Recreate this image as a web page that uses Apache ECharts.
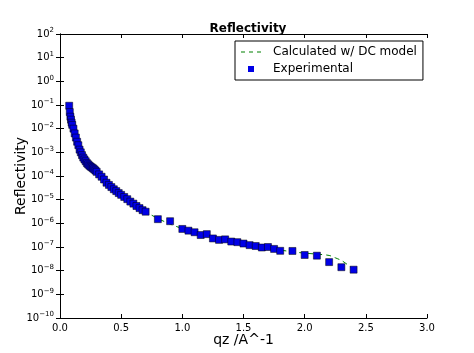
<!DOCTYPE html>
<html>
<head>
<meta charset="utf-8">
<script src="https://cdn.jsdelivr.net/npm/echarts@6/dist/echarts.min.js"></script>
<style>
html,body{margin:0;padding:0;background:#fff;}
#chart{width:474px;height:353px;}
</style>
</head>
<body>
<div id="chart"></div>
<script>
// Experimental data (qz in 1/A, reflectivity)
const expQ = [0.075, 0.08, 0.085, 0.09, 0.095, 0.10, 0.11, 0.12, 0.13, 0.14, 0.15, 0.16, 0.17, 0.18, 0.19, 0.20,
  0.21, 0.22, 0.23, 0.24, 0.25, 0.26, 0.27, 0.28, 0.29, 0.30, 0.32, 0.34, 0.36, 0.38, 0.40, 0.42, 0.44, 0.46,
  0.48, 0.50, 0.525, 0.55, 0.575, 0.60, 0.625, 0.65, 0.675, 0.70,
  0.8, 0.9, 1.0, 1.05, 1.1, 1.15, 1.2, 1.25, 1.3, 1.35, 1.4, 1.45, 1.5, 1.55, 1.6, 1.65, 1.7, 1.75, 1.8,
  1.9, 2.0, 2.1, 2.2, 2.3, 2.4];
const expR = [9.3e-2, 5.0e-2, 3.2e-2, 2.4e-2, 1.8e-2, 1.45e-2, 1.0e-2, 6.3e-3, 4.2e-3, 2.8e-3, 2.0e-3, 1.3e-3,
  1.0e-3, 7.6e-4, 6.0e-4, 5.0e-4, 4.2e-4, 3.5e-4, 3.1e-4, 2.75e-4, 2.5e-4, 2.3e-4, 2.1e-4, 1.9e-4, 1.7e-4,
  1.5e-4, 1.17e-4, 9.3e-5, 7.1e-5, 5.2e-5, 4.2e-5, 3.4e-5, 2.75e-5, 2.3e-5, 1.9e-5, 1.6e-5, 1.3e-5, 1.05e-5,
  8.3e-6, 6.8e-6, 5.4e-6, 4.4e-6, 3.6e-6, 3.1e-6,
  1.5e-6, 1.23e-6, 5.8e-7, 4.9e-7, 4.2e-7, 3.2e-7, 3.5e-7, 2.3e-7, 2.0e-7, 2.1e-7, 1.7e-7, 1.6e-7, 1.4e-7,
  1.2e-7, 1.1e-7, 9.5e-8, 1.0e-7, 8.3e-8, 6.9e-8, 6.8e-8, 4.6e-8, 4.3e-8, 2.3e-8, 1.4e-8, 1.1e-8];

// Calculated (DC model) curve
const modelQ = [0.075, 0.1, 0.15, 0.2, 0.25, 0.3, 0.4, 0.5, 0.6, 0.7, 0.8, 0.9, 1.0, 1.1, 1.2, 1.3, 1.4, 1.5,
  1.6, 1.7, 1.8, 1.9, 2.0, 2.1, 2.2, 2.25, 2.3, 2.35, 2.4];
const modelR = [9.3e-2, 1.45e-2, 1.9e-3, 5.0e-4, 2.5e-4, 1.5e-4, 4.2e-5, 1.6e-5, 6.8e-6, 3.1e-6, 1.6e-6, 9.3e-7,
  6.0e-7, 4.2e-7, 3.0e-7, 2.2e-7, 1.7e-7, 1.35e-7, 1.07e-7, 8.7e-8, 7.4e-8, 6.3e-8, 5.5e-8, 5.0e-8, 4.4e-8,
  3.5e-8, 2.7e-8, 1.8e-8, 1.07e-8];

const xTicks = [0.0, 0.5, 1.0, 1.5, 2.0, 2.5, 3.0];
const yMin = 1e-10, yMax = 1e2;

const FONT = 'DejaVu Sans';
const chart = echarts.init(document.getElementById('chart'), null, {renderer: 'canvas'});

function yLabel(v) {
  const e = Math.round(Math.log10(v));
  return '{b|10}{s|' + String(e).replace('-', '\u2212') + '}';
}

const tickStyle = {show: true, inside: true, length: 4, lineStyle: {color: '#000', width: 1}};
const lineStyle = {show: true, lineStyle: {color: '#000', width: 1}};

chart.setOption({
  backgroundColor: '#fff',
  animation: false,
  title: {
    text: 'Reflectivity',
    left: 243, top: 18, textAlign: 'center',
    textStyle: {fontFamily: FONT, fontSize: 12, fontWeight: 'bold', color: '#000'}
  },
  grid: {left: 60, right: 47, top: 34, bottom: 35, containLabel: false, outerBoundsMode: 'none'},
  legend: {
    left: 235, top: 41, orient: 'vertical',
    padding: [5, 6, 5, 5], itemGap: 5, itemWidth: 22, itemHeight: 12,
    borderColor: '#000', borderWidth: 1, borderRadius: 0,
    backgroundColor: '#fff',
    textStyle: {fontFamily: FONT, fontSize: 12, color: '#000', padding: [0, 0, 0, 6]},
    data: [
      {name: 'Calculated w/ DC model',
       icon: 'path://M0,0h0.01v0.01h-0.01z M21.99,11.99h0.01v0.01h-0.01z M1,5.5h4v1h-4z M9,5.5h4v1h-4z M17,5.5h4v1h-4z',
       itemStyle: {color: '#008000', borderWidth: 0}},
      {name: 'Experimental',
       icon: 'path://M0,0h0.01v0.01h-0.01z M21.99,11.99h0.01v0.01h-0.01z M8,3h6v6h-6z',
       itemStyle: {color: '#0000e6', borderWidth: 0}}
    ]
  },
  xAxis: [{
    type: 'value', min: 0, max: 3, interval: 0.5, position: 'bottom',
    name: 'qz /A^-1', nameLocation: 'middle', nameGap: 15, nameMoveOverlap: false,
    nameTextStyle: {fontFamily: FONT, fontSize: 14, color: '#000', verticalAlign: 'top'},
    axisLine: lineStyle, axisTick: tickStyle, splitLine: {show: false},
    axisLabel: {fontFamily: FONT, fontSize: 10, color: '#000', margin: 5,
      formatter: v => xTicks.includes(v) ? v.toFixed(1) : ''}
  }, {
    type: 'value', min: 0, max: 3, interval: 0.5, position: 'top',
    axisLine: lineStyle, axisTick: tickStyle, splitLine: {show: false}, axisLabel: {show: false}
  }],
  yAxis: [{
    type: 'log', logBase: 10, min: yMin, max: yMax, interval: 1, position: 'left',
    name: 'Reflectivity', nameLocation: 'middle', nameGap: 32, nameRotate: 90, nameMoveOverlap: false,
    nameTextStyle: {fontFamily: FONT, fontSize: 14, color: '#000'},
    axisLine: lineStyle, axisTick: tickStyle, splitLine: {show: false}, minorTick: {show: false},
    axisLabel: {
      margin: 6, formatter: yLabel,
      rich: {
        b: {fontFamily: FONT, fontSize: 10, color: '#000', lineHeight: 14, verticalAlign: 'middle'},
        s: {fontFamily: FONT, fontSize: 7, color: '#000', lineHeight: 14, verticalAlign: 'top'}
      }
    }
  }, {
    type: 'log', logBase: 10, min: yMin, max: yMax, interval: 1, position: 'right',
    axisLine: lineStyle, axisTick: tickStyle, splitLine: {show: false}, axisLabel: {show: false}
  }],
  series: [{
    name: 'Calculated w/ DC model', type: 'line', xAxisIndex: 0, yAxisIndex: 0,
    data: modelQ.map((q, i) => [q, modelR[i]]),
    showSymbol: false, symbol: 'none', smooth: 0.3, z: 2,
    lineStyle: {color: '#008000', width: 1, type: [5, 4]},
    itemStyle: {color: '#008000'}
  }, {
    name: 'Experimental', type: 'scatter', xAxisIndex: 0, yAxisIndex: 0,
    data: expQ.map((q, i) => [q, expR[i]]),
    symbol: 'rect', symbolSize: 7, z: 3,
    itemStyle: {color: '#0000e6', borderColor: '#000', borderWidth: 0.5, opacity: 1}
  }]
});
</script>
</body>
</html>
